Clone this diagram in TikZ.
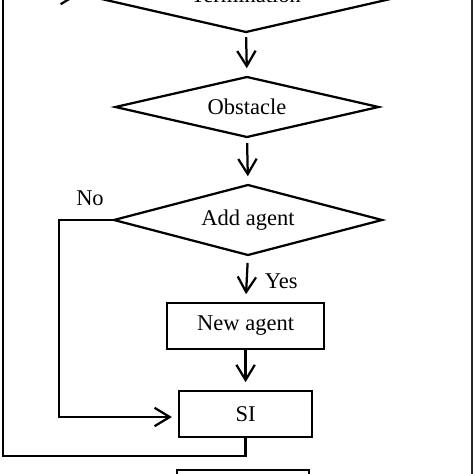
\documentclass[tikz,border=0pt]{standalone}
\usepackage{fontspec}
\setmainfont{Liberation Serif}
\usetikzlibrary{shapes.geometric,arrows.meta}
\begin{document}
\begin{tikzpicture}
% Frame
\clip (0,0) rectangle (11.85,11.85);

\tikzstyle{decision} = [draw, shape=diamond, aspect=4.4, inner sep=0pt, outer sep=0pt, line width=1.6pt, font=\fontsize{16}{19}\selectfont]
\tikzstyle{process} = [draw, shape=rectangle, minimum height=1.15cm, outer sep=0pt, line width=1.6pt, font=\fontsize{16}{19}\selectfont]
\tikzstyle{flow} = [line width=1.6pt, -{Straight Barb[length=3.8mm,width=4.6mm,line width=1.6pt]}, shorten >=0.22cm]

\node at (6.15,11.975)[decision, minimum width=8.1cm, minimum height=1.85cm](term){Termination};
\node at (6.175,9.175)[decision, minimum width=6.575cm, minimum height=1.5cm](obst){Obstacle};
\node at (6.2,6.35)[decision, minimum width=6.7cm, minimum height=1.75cm](addag){Add agent};
\node at (6.14,3.7)[process, minimum width=3.925cm](newag){New agent};
\node at (6.14,1.5)[process, minimum width=3.325cm](si){SI};
\node at (6.075,-0.475)[process, minimum width=3.3cm](next){};

\coordinate (nocorner) at (1.475,1.425);
\coordinate (loopcorner) at (0.075,0.45);

\draw[flow, shorten <=0.13cm] (term.south) -- (obst.north);
\draw[flow, shorten <=0.15cm] (obst.south) -- (addag.north);
\draw[flow, shorten <=0.2cm] (addag.south) -- (newag.north);
\draw[flow] (newag.south) -- (si.north);

\draw[flow, shorten >=0.18cm] (addag.west) -| (nocorner) -- (si.west |- nocorner);
\draw[flow, shorten >=0.15cm] (si.south) |- (loopcorner) |- (term.west);

\node at (2.25,6.9)[font=\fontsize{16}{19}\selectfont](no){No};
\node at (7.03,4.825)[font=\fontsize{16}{19}\selectfont](yes){Yes};

% right edge
\draw[line width=1.6pt, black!85] (11.8,0) -- (11.8,11.85);

\end{tikzpicture}
\end{document}
